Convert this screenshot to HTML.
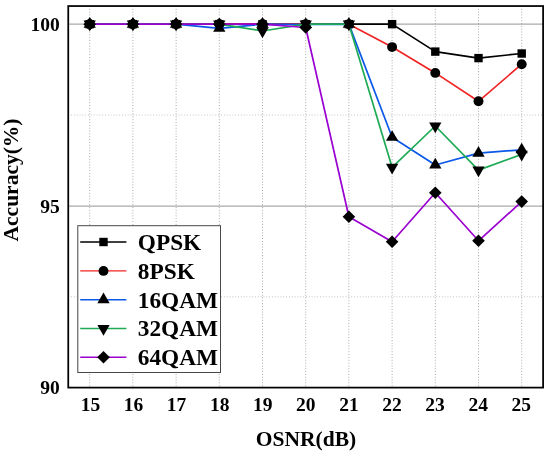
<!DOCTYPE html>
<html><head><meta charset="utf-8"><title>Accuracy vs OSNR</title>
<style>
html,body{margin:0;padding:0;background:#fff;}
body{width:550px;height:455px;overflow:hidden;}
.t{font-family:"Liberation Serif","Times New Roman",serif;font-weight:bold;fill:#000;}
</style></head><body>
<svg width="550" height="455" viewBox="0 0 550 455" style="display:block">
<rect width="550" height="455" fill="#fff"/>
<g stroke="#a2a2a2" stroke-width="1" stroke-dasharray="0.9,1.93" fill="none">
<line x1="89.70" y1="6.05" x2="89.70" y2="387.6"/>
<line x1="132.90" y1="6.05" x2="132.90" y2="387.6"/>
<line x1="176.10" y1="6.05" x2="176.10" y2="387.6"/>
<line x1="219.30" y1="6.05" x2="219.30" y2="387.6"/>
<line x1="262.50" y1="6.05" x2="262.50" y2="387.6"/>
<line x1="305.70" y1="6.05" x2="305.70" y2="387.6"/>
<line x1="348.90" y1="6.05" x2="348.90" y2="387.6"/>
<line x1="392.10" y1="6.05" x2="392.10" y2="387.6"/>
<line x1="435.30" y1="6.05" x2="435.30" y2="387.6"/>
<line x1="478.50" y1="6.05" x2="478.50" y2="387.6"/>
<line x1="521.70" y1="6.05" x2="521.70" y2="387.6"/>
<line x1="68.25" y1="115.03" x2="543.1" y2="115.03" stroke="#bebebe"/>
<line x1="68.25" y1="296.77" x2="543.1" y2="296.77" stroke="#bebebe"/>
</g>
<g stroke="#aaaaaa" stroke-width="1.25" fill="none">
<line x1="68.25" y1="24.15" x2="543.1" y2="24.15"/>
<line x1="68.25" y1="206.20" x2="543.1" y2="206.20"/>
</g>
<polyline points="89.70,24.15 132.90,24.15 176.10,24.15 219.30,24.15 262.50,24.15 305.70,24.15 348.90,24.15 392.10,24.15 435.30,51.60 478.50,58.10 521.70,53.50" fill="none" stroke="#000000" stroke-width="1.7" stroke-linejoin="round"/>
<g fill="#000">
<rect x="85.50" y="19.95" width="8.4" height="8.4"/>
<rect x="128.70" y="19.95" width="8.4" height="8.4"/>
<rect x="171.90" y="19.95" width="8.4" height="8.4"/>
<rect x="215.10" y="19.95" width="8.4" height="8.4"/>
<rect x="258.30" y="19.95" width="8.4" height="8.4"/>
<rect x="301.50" y="19.95" width="8.4" height="8.4"/>
<rect x="344.70" y="19.95" width="8.4" height="8.4"/>
<rect x="387.90" y="19.95" width="8.4" height="8.4"/>
<rect x="431.10" y="47.40" width="8.4" height="8.4"/>
<rect x="474.30" y="53.90" width="8.4" height="8.4"/>
<rect x="517.50" y="49.30" width="8.4" height="8.4"/>
</g>
<polyline points="89.70,24.15 132.90,24.15 176.10,24.15 219.30,24.15 262.50,24.15 305.70,24.15 348.90,24.15 392.10,47.10 435.30,72.90 478.50,101.30 521.70,64.20" fill="none" stroke="#f02424" stroke-width="1.7" stroke-linejoin="round"/>
<g fill="#000">
<circle cx="89.70" cy="24.15" r="4.95"/>
<circle cx="132.90" cy="24.15" r="4.95"/>
<circle cx="176.10" cy="24.15" r="4.95"/>
<circle cx="219.30" cy="24.15" r="4.95"/>
<circle cx="262.50" cy="24.15" r="4.95"/>
<circle cx="305.70" cy="24.15" r="4.95"/>
<circle cx="348.90" cy="24.15" r="4.95"/>
<circle cx="392.10" cy="47.10" r="4.95"/>
<circle cx="435.30" cy="72.90" r="4.95"/>
<circle cx="478.50" cy="101.30" r="4.95"/>
<circle cx="521.70" cy="64.20" r="4.95"/>
</g>
<polyline points="89.70,24.15 132.90,24.15 176.10,24.15 219.30,28.30 262.50,24.15 305.70,24.50 348.90,24.15 392.10,137.30 435.30,165.00 478.50,153.10 521.70,149.80" fill="none" stroke="#0c58e8" stroke-width="1.7" stroke-linejoin="round"/>
<g fill="#000">
<polygon points="89.70,17.02 95.85,27.72 83.55,27.72"/>
<polygon points="132.90,17.02 139.05,27.72 126.75,27.72"/>
<polygon points="176.10,17.02 182.25,27.72 169.95,27.72"/>
<polygon points="219.30,21.17 225.45,31.87 213.15,31.87"/>
<polygon points="262.50,17.02 268.65,27.72 256.35,27.72"/>
<polygon points="305.70,17.37 311.85,28.07 299.55,28.07"/>
<polygon points="348.90,17.02 355.05,27.72 342.75,27.72"/>
<polygon points="392.10,130.17 398.25,140.87 385.95,140.87"/>
<polygon points="435.30,157.87 441.45,168.57 429.15,168.57"/>
<polygon points="478.50,145.97 484.65,156.67 472.35,156.67"/>
<polygon points="521.70,142.67 527.85,153.37 515.55,153.37"/>
</g>
<polyline points="89.70,24.15 132.90,24.15 176.10,24.15 219.30,24.15 262.50,31.00 305.70,24.15 348.90,24.15 392.10,167.30 435.30,126.00 478.50,170.10 521.70,154.40" fill="none" stroke="#1eaa55" stroke-width="1.7" stroke-linejoin="round"/>
<g fill="#000">
<polygon points="89.70,31.28 95.85,20.58 83.55,20.58"/>
<polygon points="132.90,31.28 139.05,20.58 126.75,20.58"/>
<polygon points="176.10,31.28 182.25,20.58 169.95,20.58"/>
<polygon points="219.30,31.28 225.45,20.58 213.15,20.58"/>
<polygon points="262.50,38.13 268.65,27.43 256.35,27.43"/>
<polygon points="305.70,31.28 311.85,20.58 299.55,20.58"/>
<polygon points="348.90,31.28 355.05,20.58 342.75,20.58"/>
<polygon points="392.10,174.43 398.25,163.73 385.95,163.73"/>
<polygon points="435.30,133.13 441.45,122.43 429.15,122.43"/>
<polygon points="478.50,177.23 484.65,166.53 472.35,166.53"/>
<polygon points="521.70,161.53 527.85,150.83 515.55,150.83"/>
</g>
<polyline points="89.70,24.15 132.90,24.15 176.10,24.15 219.30,24.15 262.50,24.15 305.70,27.50 348.90,216.80 392.10,241.70 435.30,192.80 478.50,240.80 521.70,201.60" fill="none" stroke="#9a00d0" stroke-width="1.7" stroke-linejoin="round"/>
<g fill="#000">
<polygon points="89.70,17.85 96.00,24.15 89.70,30.45 83.40,24.15"/>
<polygon points="132.90,17.85 139.20,24.15 132.90,30.45 126.60,24.15"/>
<polygon points="176.10,17.85 182.40,24.15 176.10,30.45 169.80,24.15"/>
<polygon points="219.30,17.85 225.60,24.15 219.30,30.45 213.00,24.15"/>
<polygon points="262.50,17.85 268.80,24.15 262.50,30.45 256.20,24.15"/>
<polygon points="305.70,21.20 312.00,27.50 305.70,33.80 299.40,27.50"/>
<polygon points="348.90,210.50 355.20,216.80 348.90,223.10 342.60,216.80"/>
<polygon points="392.10,235.40 398.40,241.70 392.10,248.00 385.80,241.70"/>
<polygon points="435.30,186.50 441.60,192.80 435.30,199.10 429.00,192.80"/>
<polygon points="478.50,234.50 484.80,240.80 478.50,247.10 472.20,240.80"/>
<polygon points="521.70,195.30 528.00,201.60 521.70,207.90 515.40,201.60"/>
</g>
<rect x="68.25" y="6.05" width="474.85" height="381.55" fill="none" stroke="#000" stroke-width="1.75"/>
<rect x="77.8" y="225.7" width="142.7" height="146.8" fill="#fff" stroke="#484848" stroke-width="1"/>
<line x1="80.2" y1="242.0" x2="126.4" y2="242.0" stroke="#000000" stroke-width="1.4"/>
<g fill="#000"><rect x="99.30" y="237.80" width="8.4" height="8.4"/></g>
<text x="137.8" y="249.9" font-size="23.3" class="t">QPSK</text>
<line x1="80.2" y1="270.9" x2="126.4" y2="270.9" stroke="#f02424" stroke-width="1.4"/>
<g fill="#000"><circle cx="103.50" cy="270.90" r="4.95"/></g>
<text x="137.8" y="278.8" font-size="23.3" class="t">8PSK</text>
<line x1="80.2" y1="299.7" x2="126.4" y2="299.7" stroke="#0c58e8" stroke-width="1.4"/>
<g fill="#000"><polygon points="103.50,292.57 109.65,303.27 97.35,303.27"/></g>
<text x="137.8" y="307.6" font-size="23.3" class="t">16QAM</text>
<line x1="80.2" y1="328.5" x2="126.4" y2="328.5" stroke="#1eaa55" stroke-width="1.4"/>
<g fill="#000"><polygon points="103.50,335.63 109.65,324.93 97.35,324.93"/></g>
<text x="137.8" y="336.4" font-size="23.3" class="t">32QAM</text>
<line x1="80.2" y1="357.3" x2="126.4" y2="357.3" stroke="#9a00d0" stroke-width="1.4"/>
<g fill="#000"><polygon points="103.50,351.00 109.80,357.30 103.50,363.60 97.20,357.30"/></g>
<text x="137.8" y="365.2" font-size="23.3" class="t">64QAM</text>
<text x="90.40" y="411" font-size="19.5" text-anchor="middle" class="t">15</text>
<text x="133.49" y="411" font-size="19.5" text-anchor="middle" class="t">16</text>
<text x="176.58" y="411" font-size="19.5" text-anchor="middle" class="t">17</text>
<text x="219.67" y="411" font-size="19.5" text-anchor="middle" class="t">18</text>
<text x="262.76" y="411" font-size="19.5" text-anchor="middle" class="t">19</text>
<text x="305.85" y="411" font-size="19.5" text-anchor="middle" class="t">20</text>
<text x="348.94" y="411" font-size="19.5" text-anchor="middle" class="t">21</text>
<text x="392.03" y="411" font-size="19.5" text-anchor="middle" class="t">22</text>
<text x="435.12" y="411" font-size="19.5" text-anchor="middle" class="t">23</text>
<text x="478.21" y="411" font-size="19.5" text-anchor="middle" class="t">24</text>
<text x="521.30" y="411" font-size="19.5" text-anchor="middle" class="t">25</text>
<text x="59.8" y="30.9" font-size="19.5" text-anchor="end" class="t">100</text>
<text x="59.8" y="212.8" font-size="19.5" text-anchor="end" class="t">95</text>
<text x="59.8" y="394.0" font-size="19.5" text-anchor="end" class="t">90</text>
<text x="306" y="446" font-size="21.5" text-anchor="middle" class="t">OSNR(dB)</text>
<text transform="translate(17.7,180) rotate(-90)" font-size="21.5" text-anchor="middle" class="t">Accuracy(%)</text>
</svg>
</body></html>
